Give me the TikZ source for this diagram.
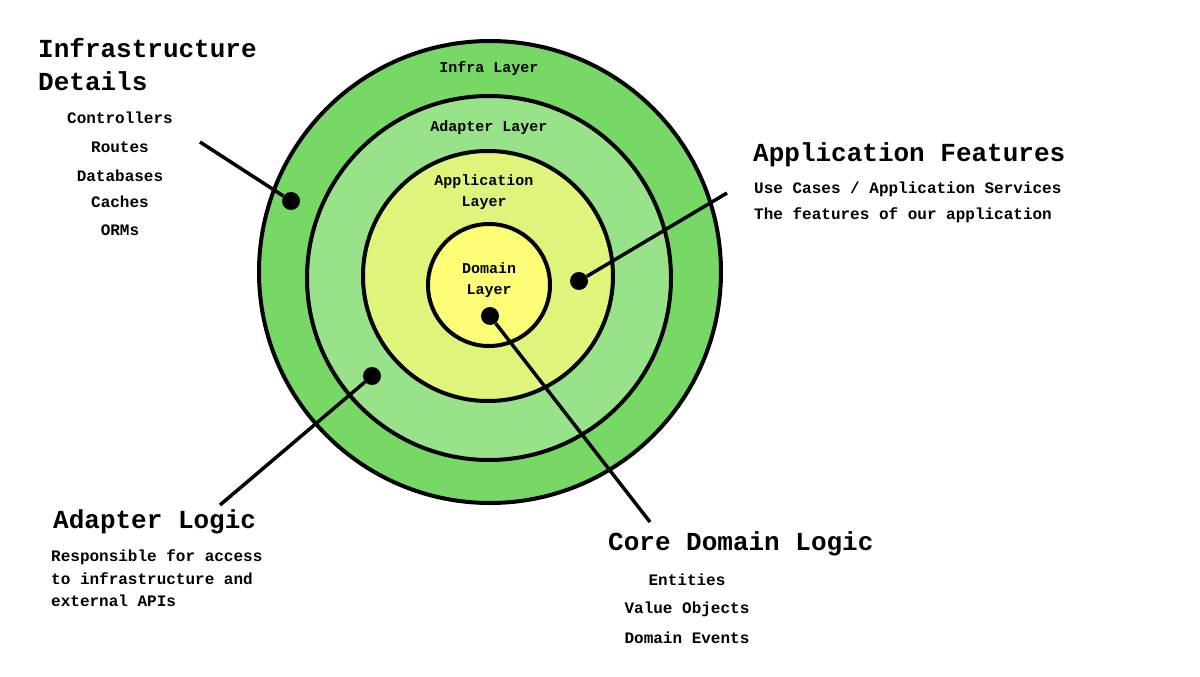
\documentclass[tikz,border=0pt]{standalone}
\usepackage{fontspec}
\setmainfont{Liberation Mono}
\begin{document}
\begin{tikzpicture}[x=1pt,y=-1pt,
  ring/.style={draw=black,line width=4pt},
  dot/.style={circle,fill=black,inner sep=0pt,minimum size=18pt},
  lead/.style={line width=3.5pt},
  sm/.style={font=\fontsize{16}{18}\selectfont\bfseries,inner sep=0pt},
  lay/.style={font=\fontsize{15}{21}\selectfont\bfseries,inner sep=0pt,align=center},
  big/.style={font=\fontsize{26}{29}\selectfont\bfseries,inner sep=0pt,anchor=west}]
\useasboundingbox (0,0) rectangle (1200,677);
\fill[white] (0,0) rectangle (1200,677);
\draw[ring,fill={rgb,255:red,119;green,216;blue,102}] (490,272) circle (231);
\draw[ring,fill={rgb,255:red,152;green,227;blue,138}] (489,278) circle (182);
\draw[ring,fill={rgb,255:red,223;green,244;blue,122}] (488,276) circle (125);
\draw[ring,fill={rgb,255:red,255;green,255;blue,119}] (489,285) circle (61);
\node[lay] (il) at (489,69) {Infra Layer};
\node[lay] (al) at (489,128) {Adapter Layer};
\node[lay] (apl) at (484,192) {Application\\Layer};
\node[lay] (dl) at (489,280) {Domain\\Layer};
\node[dot] (d1) at (291,201) {};
\node[dot] (d2) at (579,281) {};
\node[dot] (d3) at (372,376) {};
\node[dot] (d4) at (490,316) {};
\coordinate (e1) at (200,142);
\coordinate (e2) at (727,193);
\coordinate (e3) at (220,505);
\coordinate (e4) at (650,522);
\draw[lead] (e1) -- (d1);
\draw[lead] (d2) -- (e2);
\draw[lead] (d3) -- (e3);
\draw[lead] (d4) -- (e4);
\node[big] (t1) at (38,48) {Infrastructure};
\node[big] (t1b) at (38,81) {Details};
\node[sm] at (120,118) {Controllers};
\node[sm] at (120,147) {Routes};
\node[sm] at (120,176) {Databases};
\node[sm] at (120,202) {Caches};
\node[sm] at (120,230) {ORMs};
\node[big] (t2) at (753,155) {Application Features};
\node[sm,anchor=west] at (754,189) {Use Cases / Application Services};
\node[sm,anchor=west] at (754,215) {The features of our application};
\node[big] (t3) at (53,522) {Adapter Logic};
\node[sm,anchor=west] at (51,557) {Responsible for access};
\node[sm,anchor=west] at (51,579) {to infrastructure and};
\node[sm,anchor=west] at (51,601) {external APIs};
\node[big] (t4) at (608,544) {Core Domain Logic};
\node[sm] at (687,580) {Entities};
\node[sm] at (687,609) {Value Objects};
\node[sm] at (687,638) {Domain Events};
\end{tikzpicture}
\end{document}
